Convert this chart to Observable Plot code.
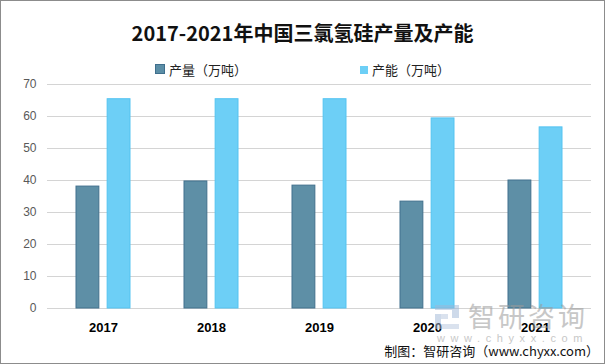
<!DOCTYPE html>
<html>
<head>
<meta charset="utf-8">
<script src="https://cdn.jsdelivr.net/npm/d3@7"></script>
<script src="https://cdn.jsdelivr.net/npm/@observablehq/plot@0.6"></script>
<style>
  html, body { margin: 0; padding: 0; background: #fff; }
  #wrap { position: relative; width: 605px; height: 364px; overflow: hidden; background: #fff; font-family: "Noto Sans CJK SC", "Liberation Sans", sans-serif; }
  #border { position: absolute; left: 0; top: 0; width: 605px; height: 364px; box-sizing: border-box; border: 1px solid #8c8c8c; pointer-events: none; }
  #title { position: absolute; left: 0; width: 605px; top: 20px; text-align: center; font-size: 20px; font-weight: bold; color: #111; line-height: 26px; }
  .leg { position: absolute; top: 61px; font-size: 13px; color: #222; line-height: 18px; white-space: nowrap; }
  .sw { display: inline-block; width: 8px; height: 8px; margin-right: 4px; vertical-align: 1px; }
  #caption { position: absolute; right: 6px; top: 342px; font-size: 13px; color: #111; line-height: 18px; white-space: nowrap; }
  #wm1 { position: absolute; left: 468px; top: 300px; font-size: 27px; color: #9a9a9a; letter-spacing: 3px; opacity: 0.55; line-height: 32px; white-space: nowrap; }
  #wm2 { position: absolute; left: 437px; top: 331px; font-size: 11px; color: #9a9a9a; letter-spacing: 5.6px; opacity: 0.55; line-height: 14px; white-space: nowrap; font-family: "Liberation Sans", sans-serif; }
  #logo { position: absolute; left: 434px; top: 304px; opacity: 0.5; }
  #chart { position: absolute; left: 0; top: 0; }
</style>
</head>
<body>
<div id="wrap">
  <div id="chart"></div>
  <div id="title">2017-2021年中国三氯氢硅产量及产能</div>
  <div class="leg" style="left:155px"><span class="sw" style="background:#5b8ea6;border:0.5px solid #3f6f8d"></span>产量（万吨）</div>
  <div class="leg" style="left:360px"><span class="sw" style="background:#6dcff6"></span>产能（万吨）</div>
  <svg id="logo" width="26" height="26" viewBox="0 0 26 26">
    <rect x="1" y="1" width="24" height="5" fill="#9fb6d6"/>
    <rect x="18" y="1" width="7" height="13" fill="#9fb6d6"/>
    <rect x="1" y="10" width="13" height="5" fill="#b7c7de"/>
    <rect x="1" y="10" width="6" height="15" fill="#9fb6d6"/>
    <rect x="1" y="20" width="24" height="5" fill="#b7c7de"/>
  </svg>
  <div id="wm1">智研咨询</div>
  <div id="wm2">www.chyxx.com</div>
  <div id="caption">制图：智研咨询（www.chyxx.com）</div>
  <div id="border"></div>
</div>
<script>
const years = ["2017", "2018", "2019", "2020", "2021"];
const production = [38.1, 39.7, 38.4, 33.4, 40.0];
const capacity = [65.4, 65.4, 65.4, 59.4, 56.6];
const seriesNames = ["产量（万吨）", "产能（万吨）"];
const yTicks = [0, 10, 20, 30, 40, 50, 60, 70];

const prodData = years.map((y, i) => ({year: y, series: seriesNames[0], value: production[i]}));
const capData = years.map((y, i) => ({year: y, series: seriesNames[1], value: capacity[i]}));

// group band ~54.7px: bar ~23.5px, gap ~7.6px
const half = 31.15;

const chart = Plot.plot({
  width: 605,
  height: 364,
  marginTop: 84,
  marginBottom: 56,
  marginLeft: 47,
  marginRight: 14,
  style: {fontFamily: "'Liberation Sans', 'Noto Sans CJK SC', sans-serif", background: "transparent"},
  x: {domain: years, paddingInner: 0.497, paddingOuter: 0.2485, label: null, tickSize: 0, tickPadding: 14},
  y: {domain: [0, 70], ticks: yTicks, label: null, tickSize: 0, tickPadding: 11, grid: false},
  marks: [
    Plot.ruleY(yTicks, {stroke: "#d4d4d4", strokeWidth: 1}),
    Plot.barY(prodData, {x: "year", y: "value", fill: "#5e8fa6", stroke: "#41708d", strokeWidth: 1, insetLeft: 0, insetRight: half}),
    Plot.barY(capData, {x: "year", y: "value", fill: "#6dcff6", stroke: "#54c3f1", strokeWidth: 1, insetLeft: half, insetRight: 0})
  ]
});
document.getElementById("chart").appendChild(chart);

d3.select(chart).selectAll("g[aria-label='y-axis tick label']").attr("fill", "#595959").style("font-size", "12px");
d3.select(chart).selectAll("g[aria-label='x-axis tick label']").attr("fill", "#000").style("font-size", "13px").style("font-weight", "bold");
</script>
</body>
</html>
